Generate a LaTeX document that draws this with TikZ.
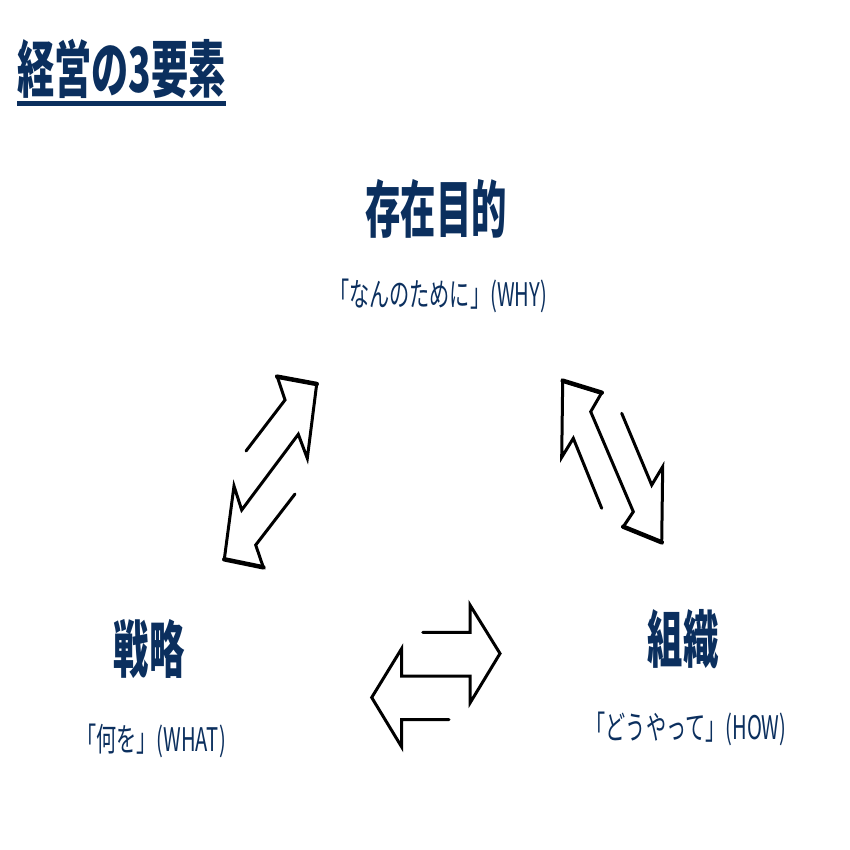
\documentclass[tikz,border=0pt]{standalone}
\usepackage{fontspec}
\newfontfamily\jpfont[FakeStretch=0.62]{Noto Sans CJK JP}
\newfontfamily\jptitle[FakeStretch=0.60]{Noto Sans CJK JP}
\newfontfamily\jphead[FakeStretch=0.57]{Noto Sans CJK JP}
\usetikzlibrary{calc}
\definecolor{navy}{HTML}{0B2F5E}

\tikzset{
  big/.style={navy, inner sep=0, font=\jphead\bfseries\fontsize{62}{62}\selectfont},
  sub/.style={navy, inner sep=0, font=\jpfont\fontsize{32.5}{32.5}\selectfont},
  arr/.style={line width=3pt, line join=miter, line cap=round},
  edge/.style={line width=4.5pt, line cap=round}
}

\begin{document}
\begin{tikzpicture}[x=1pt,y=-1pt]
\useasboundingbox (0,0) rectangle (850,850);
% title
\node [navy, inner sep=0, font=\jptitle\bfseries\fontsize{62}{62}\selectfont, anchor=west] (title) at (17,69) {経営の3要素};
\draw [navy, line width=5pt] (title.west |- 0,103.5) -- (title.east |- 0,103.5);
% the three elements
\node [big] (why) at (436,209) {存在目的};
\node [sub] (whysub) at (438,296) {「なんのために」(WHY)};
\node [big] (what) at (149,649) {戦略};
\node [sub] (whatsub) at (151,741) {「何を」(WHAT)};
\node [big] (how) at (683,639) {組織};
\node [sub] (howsub) at (686,729) {「どうやって」(HOW)};
% left arrow
\draw [arr] (246,451) -- (285,400) -- (277.3,376.7) -- (316.7,384) -- (307.3,458.3) -- (298.3,434.3)
  -- (241.7,510) -- (234,486) -- (224.3,559.3) -- (263.3,567.3) -- (255.7,545) -- (295,494);
\draw [edge] (277.3,376.7) -- (316.7,384);
\draw [edge] (224.3,559.3) -- (263.3,567.3);
% right arrow
\draw [arr] (601.7,508.3) -- (573.3,438.3) -- (561.7,457.3) -- (562.7,380.7) -- (601.7,392.7) -- (590.7,411.7)
  -- (633.3,511.7) -- (623.3,526.7) -- (661.7,542.3) -- (662.7,466.7) -- (651.7,485) -- (621.7,413.3);
\draw [edge] (562.7,380.7) -- (601.7,392.7);
\draw [edge] (623.3,526.7) -- (661.7,542.3);
% bottom arrow
\draw [arr] (422.7,632.3) -- (470,632.3) -- (470,605) -- (500,653.5) -- (470,703) -- (470,676) -- (401.7,676)
  -- (401.7,648.5) -- (371.7,697.5) -- (401.7,747) -- (401.7,719.5) -- (449,719.5);
\end{tikzpicture}
\end{document}
